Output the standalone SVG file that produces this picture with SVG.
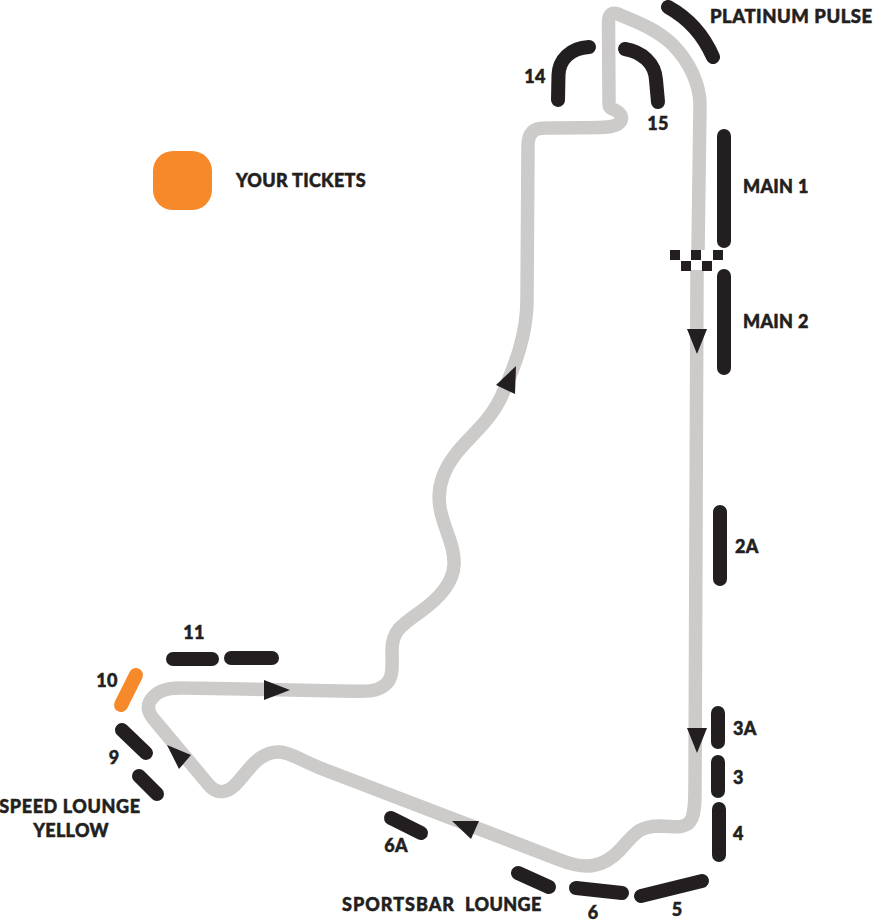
<svg xmlns="http://www.w3.org/2000/svg" width="873" height="922" viewBox="0 0 873 922">
<style>
.t{font-family:"Lato","Open Sans","Liberation Sans",sans-serif;font-weight:900;font-size:18px;fill:#231f20;stroke:#231f20;stroke-width:.5px;letter-spacing:.3px}
.m{text-anchor:middle}
.s{fill:none;stroke:#231f20;stroke-width:14;stroke-linecap:round;stroke-linejoin:round}
.o{stroke:#f68a2a}
.a{fill:#231f20}
.k{fill:#231f20}
</style>
<rect width="873" height="922" fill="#fff"/>
<g id="connectors">
<path id="track" fill="none" stroke="#cccbc9" stroke-width="13.500" stroke-linejoin="round" d="M698 250L700 105C700 85 690 62 672 44C655 28 634 21 618 14C612 12 608.500 14 608.500 22L609 104C609 110 613 108 618 112C623 116 623 122 616 125C608 129 590 127 545 128C533 128 528 134 528 146L527 300C527 335 515 365 503 393C490 423 470 435 455 455C442 472 437 490 440 508C444 530 455 545 454 565C453 585 437 600 420 612C400 626 392 632 392 650C392 665 394 678 385 685C375 693 365 691 340 691L185 688C165 687 156 692 150 701C146 709 150 715 156 722L208 784C216 794 226 794 235 785C248 772 258 751 280 752C292 753 300 760 320 768L560 860C585 870 603 868 620 850C636 832 640 826 660 826C675 827 688 829 692 818C695 810 695 800 695 785L697 270"/>
<polygon class="a" points="687,329 707,329 697,354"/>
<polygon class="a" points="687,728 707,728 697,753"/>
<polygon class="a" points="264,680 290,690 264,700"/>
<polygon class="a" points="167,745 191,755 179,769"/>
<polygon class="a" points="452,821 479,821 471,839"/>
<polygon class="a" points="516,366 515,394 496,385"/>
<g class="k">
<rect x="670" y="250" width="10" height="10"/><rect x="691" y="250" width="10" height="10"/><rect x="713" y="250" width="10" height="10"/>
<rect x="681" y="261" width="10" height="10"/><rect x="702" y="261" width="10" height="10"/>
</g>
</g>
<g id="platinum-pulse"><path class="s" d="M668 7C688 18 703 34 713 57"/><text class="t" x="710" y="23" style="font-size:18.500px;letter-spacing:.5px">PLATINUM PULSE</text></g>
<g id="g14"><path class="s" d="M558 100L558.500 75C559 60 570 48 589 47"/><text class="t m" x="535" y="83">14</text></g>
<g id="g15"><path class="s" d="M625 49C642 52 655 63 656 80L658 102"/><text class="t m" x="658" y="130">15</text></g>
<g id="your-tickets"><rect x="153" y="151" width="59" height="59" rx="20" fill="#f68a2a"/><text class="t" x="236" y="187">YOUR TICKETS</text></g>
<g id="main1"><path class="s" d="M724 136V241"/><text class="t" x="743" y="193">MAIN 1</text></g>
<g id="main2"><path class="s" d="M724 276V368"/><text class="t" x="743" y="328">MAIN 2</text></g>
<g id="g2a"><path class="s" d="M720 512V579"/><text class="t" x="735" y="553">2A</text></g>
<g id="g3a"><path class="s" d="M718 713V742"/><text class="t" x="733" y="735">3A</text></g>
<g id="g3"><path class="s" d="M718 762V791"/><text class="t" x="733" y="784">3</text></g>
<g id="g4"><path class="s" d="M719 809V855"/><text class="t" x="733" y="840">4</text></g>
<g id="g5"><path class="s" d="M641 896L702 881"/><text class="t m" x="677" y="916">5</text></g>
<g id="g6"><path class="s" d="M576 888L622 893"/><text class="t m" x="593" y="919">6</text></g>
<g id="sportsbar"><path class="s" d="M518 873L549 887"/><text class="t" x="342" y="911" style="letter-spacing:1px">SPORTSBAR<tspan x="465" style="letter-spacing:.4px">LOUNGE</tspan></text></g>
<g id="g6a"><path class="s" d="M391 818L421 833"/><text class="t m" x="396" y="852">6A</text></g>
<g id="speed-lounge"><path class="s" d="M139 776L157 794"/><text class="t m" x="70" y="813" style="letter-spacing:.6px">SPEED LOUNGE</text><text class="t m" x="71" y="837">YELLOW</text></g>
<g id="g9"><path class="s" d="M122 730L146 753"/><text class="t m" x="114" y="764">9</text></g>
<g id="g10"><path class="s o" d="M136 675L121 705"/><text class="t m" x="107" y="687">10</text></g>
<g id="g11"><path class="s" d="M173 659H212"/><path class="s" d="M231 658H272"/><text class="t m" x="194" y="639">11</text></g>
</svg>
